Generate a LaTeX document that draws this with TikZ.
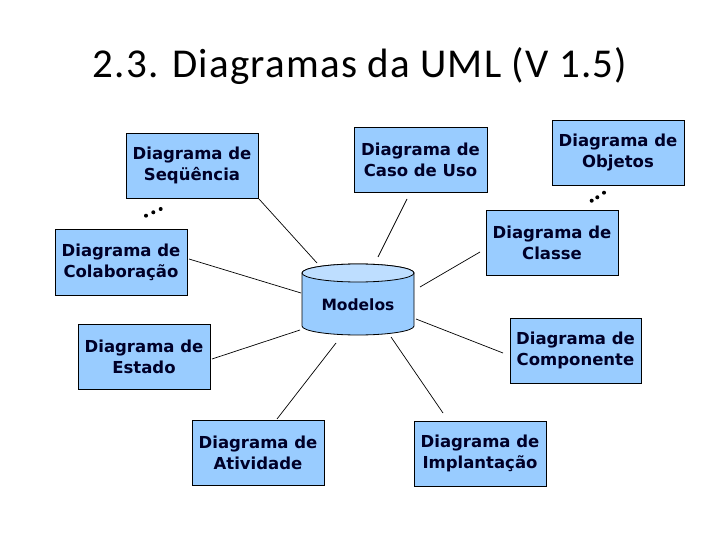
\documentclass[tikz,border=0pt]{standalone}
\usepackage{fontspec}
\setmainfont{Carlito}
\newfontfamily\titlefont[LetterSpace=2.9]{Carlito}
\newfontfamily\boxfont{DejaVu Sans}
\usetikzlibrary{calc}
\definecolor{boxblue}{RGB}{153,204,255}
\definecolor{toplight}{RGB}{190,222,255}
\definecolor{navytext}{RGB}{0,0,40}
\tikzset{
  umlbox/.style={draw=black, line width=0.8pt, fill=boxblue, minimum width=132pt, minimum height=65pt,
    inner sep=0pt, align=center, text=navytext, font=\boxfont\bfseries\fontsize{16.5}{21}\selectfont},
  conn/.style={draw=black, line width=0.7pt},
  dotmark/.style={fill=black},
}
\begin{document}
\begin{tikzpicture}[x=1pt,y=1pt]
\useasboundingbox[fill=white] (0,0) rectangle (720,-540);
% title
\node[anchor=base, font=\titlefont\fontsize{41}{46}\selectfont] (title) at (360,-78) {2.3. Diagramas da UML (V 1.5)};
% boxes
\node[umlbox] (seq) at (192,-165.5) {Diagrama de\\Seqüência};
\node[umlbox, minimum width=133pt] (caso) at (420.5,-159.5) {Diagrama de\\Caso de Uso};
\node[umlbox] (obj) at (618,-153) {Diagrama de\\Objetos};
\node[umlbox] (classe) at (552,-242.5) {Diagrama de\\Classe};
\node[umlbox, minimum height=66pt] (colab) at (121,-262) {Diagrama de\\Colaboração};
\node[umlbox] (estado) at (144,-357) {Diagrama de\\Estado};
\node[umlbox, minimum width=131pt] (comp) at (575.5,-350.5) {Diagrama de\\Componente};
\node[umlbox] (ativ) at (258,-453) {Diagrama de\\Atividade};
\node[umlbox] (impl) at (480,-453.5) {Diagrama de\\Implantação};
% cylinder
\filldraw[fill=boxblue, draw=black, line width=0.8pt]
  (302,-273) -- (302,-326) arc[start angle=180, end angle=360, x radius=56, y radius=9]
  -- (414,-273) arc[start angle=0, end angle=180, x radius=56, y radius=9] -- cycle;
\filldraw[fill=toplight, draw=black, line width=0.8pt] (358,-273) ellipse[x radius=56, y radius=9];
\node[inner sep=0pt, text=navytext, font=\boxfont\bfseries\fontsize{15.5}{21}\selectfont] (mod) at (358,-305) {Modelos};
% connector end points
\coordinate (s1) at (259,-199);  \coordinate (s2) at (317,-263);
\coordinate (u1) at (407,-199);  \coordinate (u2) at (378,-257);
\coordinate (k1) at (480,-252);  \coordinate (k2) at (420,-287);
\coordinate (c1) at (189,-259);  \coordinate (c2) at (301,-293);
\coordinate (e1) at (212,-359);  \coordinate (e2) at (300,-330);
\coordinate (p1) at (503,-353);  \coordinate (p2) at (416,-319);
\coordinate (a1) at (277,-419);  \coordinate (a2) at (336,-343);
\coordinate (i1) at (443,-413);  \coordinate (i2) at (391,-337);
\draw[conn] (s1) -- (s2);
\draw[conn] (u1) -- (u2);
\draw[conn] (k1) -- (k2);
\draw[conn] (c1) -- (c2);
\draw[conn] (e1) -- (e2);
\draw[conn] (p1) -- (p2);
\draw[conn] (a1) -- (a2);
\draw[conn] (i1) -- (i2);
% ellipsis dots
\foreach \p in {(146,-215.7),(153.3,-212.3),(160.7,-209),(591.7,-200.7),(597.3,-197.3),(604,-192.7)}
  \fill[dotmark] \p circle[radius=2];
\end{tikzpicture}
\end{document}
